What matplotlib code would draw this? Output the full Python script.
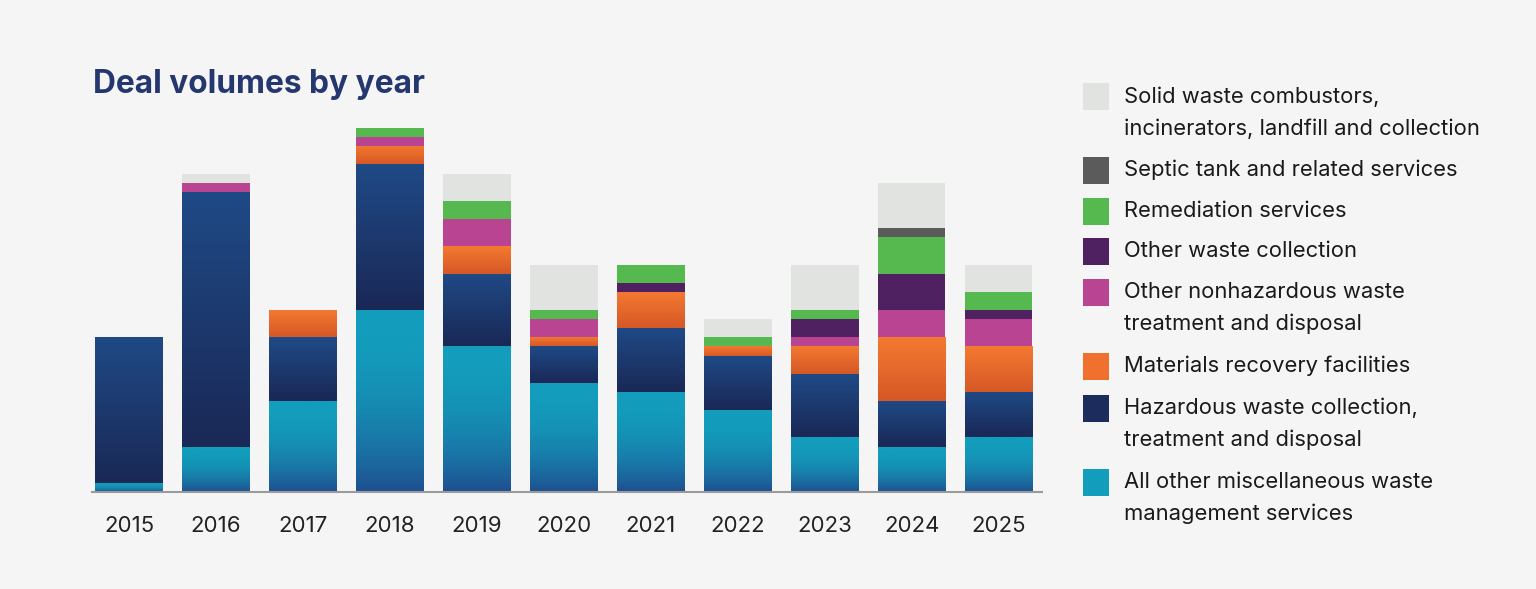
import numpy as np
import matplotlib
matplotlib.use("Agg")
import matplotlib.pyplot as plt
from matplotlib.colors import LinearSegmentedColormap
from matplotlib.patches import Rectangle

#--- data (deal counts)
years = ["2015", "2016", "2017", "2018", "2019", "2020",
         "2021", "2022", "2023", "2024", "2025"]

misc_other   = [1, 5, 10, 20, 16, 12, 11, 9, 6, 5, 6]
hazardous    = [16, 28, 7, 16, 8, 4, 7, 6, 7, 5, 5]
materials    = [0, 0, 3, 2, 3, 1, 4, 1, 3, 7, 5]
nonhazardous = [0, 1, 0, 1, 3, 2, 0, 0, 1, 3, 3]
other_coll   = [0, 0, 0, 0, 0, 0, 1, 0, 2, 4, 1]
remediation  = [0, 0, 0, 1, 2, 1, 2, 1, 1, 4, 2]
septic       = [0, 0, 0, 0, 0, 0, 0, 0, 0, 1, 0]
solid_waste  = [0, 1, 0, 0, 3, 5, 0, 2, 5, 5, 3]

labels = ["All other miscellaneous waste\nmanagement services",
          "Hazardous waste collection,\ntreatment and disposal",
          "Materials recovery facilities",
          "Other nonhazardous waste\ntreatment and disposal",
          "Other waste collection",
          "Remediation services",
          "Septic tank and related services",
          "Solid waste combustors,\nincinerators, landfill and collection"]

#--- style: (top colour, bottom colour, gradient exponent)
colors = [("#139dbc", "#1f4f90", 2.2),
          ("#1f4a86", "#1a2856", 1.0),
          ("#f47a31", "#d55826", 1.0),
          ("#b94592", "#b94592", 1.0),
          ("#4f2161", "#4f2161", 1.0),
          ("#56b94f", "#56b94f", 1.0),
          ("#5b5b5b", "#5b5b5b", 1.0),
          ("#e1e3e0", "#e1e3e0", 1.0)]
legend_colors = ["#139dbc", "#1c2c5c", "#f07030", "#b94592",
                 "#4f2161", "#56b94f", "#5b5b5b", "#e1e3e0"]

bg = "#f5f5f5"
series = [misc_other, hazardous, materials, nonhazardous,
          other_coll, remediation, septic, solid_waste]

fig = plt.figure(figsize=(15.36, 5.89), dpi=100, facecolor=bg)
ax = fig.add_axes([92/1536, (589-492)/589, 950/1536, 373/589])
ax.set_facecolor(bg)

x = np.arange(len(years))
width = 0.78
bottom = np.zeros(len(years))
t = np.linspace(0, 1, 256).reshape(-1, 1)

for vals, (ctop, cbot, pw) in zip(series, colors):
    vals = np.array(vals, dtype=float)
    bars = ax.bar(x, vals, width, bottom=bottom, color=ctop, linewidth=0)
    if ctop != cbot:
        cmap = LinearSegmentedColormap.from_list("g", [cbot, ctop])
        grad = 1 - (1 - t) ** pw
        for b in bars:
            if b.get_height() <= 0:
                continue
            x0, y0 = b.get_x(), b.get_y()
            im = ax.imshow(grad, cmap=cmap, origin="lower", aspect="auto",
                           vmin=0, vmax=1,
                           extent=(x0, x0 + b.get_width(), y0, y0 + b.get_height()),
                           interpolation="bilinear", zorder=b.get_zorder())
            im.set_clip_path(b)
    bottom += vals

ax.set_xlim(-0.425, 10.5)
ax.set_ylim(0, 41)
for s in ["top", "right", "left"]:
    ax.spines[s].set_visible(False)
ax.spines["bottom"].set_color("#9a9a9a")
ax.spines["bottom"].set_linewidth(1.5)
ax.set_yticks([])
ax.set_xticks(x)
ax.set_xticklabels(years, fontsize=16, color="#222222", family="Inter")
ax.tick_params(axis="x", length=0, pad=17)

#--- title
fig.text(93/1536, 1 - 84/589, "Deal volumes by year", fontsize=22.8,
         fontweight="bold", color="#24376f", family="Inter", va="center")

#--- legend, top to bottom
leg_y = [97, 170, 211, 251, 292, 366, 408, 482]
for i, yy in enumerate(leg_y):
    k = len(series) - 1 - i
    fig.patches.append(Rectangle((1083/1536, 1 - (yy + 13.5)/589), 26/1536, 27/589,
                                 transform=fig.transFigure,
                                 facecolor=legend_colors[k], edgecolor="none"))
    for j, line in enumerate(labels[k].split("\n")):
        fig.text(1124/1536, 1 - (yy + 31.5*j)/589, line, fontsize=15.8,
                 color="#1a1a1a", family="Inter", va="center")

fig.savefig("out.png", dpi=100, facecolor=bg)
